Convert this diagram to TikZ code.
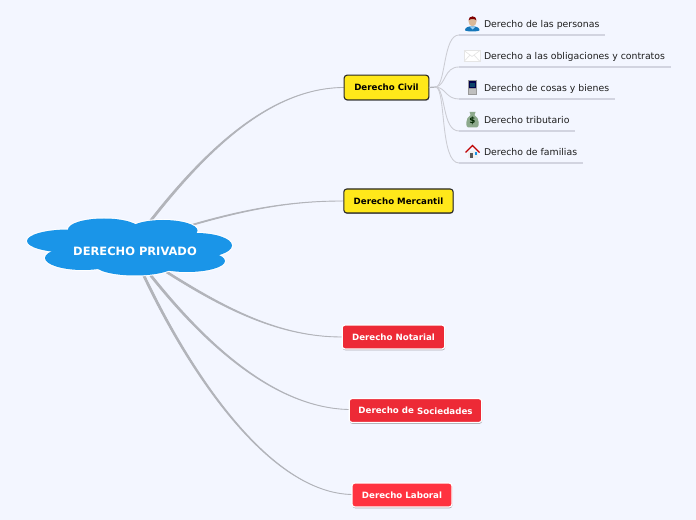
\documentclass[tikz,border=0pt]{standalone}
\usepackage{fontspec}
\setmainfont{DejaVu Sans}
\usetikzlibrary{shadows}
\definecolor{bgc}{RGB}{243,246,255}
\definecolor{cloudc}{RGB}{26,149,232}
\definecolor{yel}{RGB}{255,232,26}
\definecolor{redA}{RGB}{237,42,54}
\definecolor{redB}{RGB}{255,51,64}
\definecolor{mainl}{RGB}{178,180,186}
\definecolor{subl}{RGB}{204,205,212}
\definecolor{ulin}{RGB}{210,212,224}
\definecolor{txt}{RGB}{30,30,30}
\tikzset{
  x=0.75pt,y=-0.75pt,
  every node/.style={inner sep=0pt,outer sep=0pt},
  mainconn/.style={draw=mainl,fill=mainl,line width=0.65pt,line join=round},
  subconn/.style={draw=subl,line width=0.65pt},
  underl/.style={draw=ulin,line width=0.85pt},
  lobe/.style={fill=cloudc},
  lobeout/.style={draw=white,line width=1.5pt,fill=white},
  topic/.style={rounded corners=2.2pt,font=\bfseries\fontsize{6.5}{8}\selectfont,anchor=center},
  toplabel/.style={font=\bfseries\fontsize{6.5}{8}\selectfont,text height=5pt,text depth=0pt,anchor=center},
  yellowbox/.style={topic,fill=yel,draw=black!85,line width=0.8pt,drop shadow={shadow xshift=0.3pt,shadow yshift=-0.7pt,fill=black,opacity=0.3}},
  redbox/.style={topic,fill=redA,draw=white,line width=0.9pt,drop shadow={shadow xshift=0.3pt,shadow yshift=-1pt,fill=black,opacity=0.3}},
  leaf/.style={anchor=base west,text=txt,font=\fontsize{7}{8}\selectfont},
}
\begin{document}
\begin{tikzpicture}
\useasboundingbox (0,0) rectangle (696,520);
\fill[bgc] (0,0) rectangle (696,520);

% nodes
\node[font=\bfseries\fontsize{8.6}{10}\selectfont,anchor=center] (root) at (135,251) {\phantom{DERECHO PRIVADO}};
\coordinate (r1) at (150,220);
\coordinate (r1b) at (151.6,221);
\coordinate (r2) at (190,226);
\coordinate (r2b) at (190,225);
\coordinate (r3) at (165,272);
\coordinate (r3b) at (166.6,271);
\coordinate (r4) at (150,276);
\coordinate (r4b) at (151.6,275);
\coordinate (r5) at (143,276);
\coordinate (r5b) at (144.6,275);

\coordinate (c1) at (343.5,87.5);
\coordinate (c2) at (342.5,201);
\coordinate (c3) at (342,337);
\coordinate (c4) at (349,409.5);
\coordinate (c5) at (352,494.5);

% main connectors: tapered, wider at the root
\path[mainconn] (r1) .. controls (205,150) and (270,88) .. (c1) .. controls (270,88) and (206.6,151) .. (r1b) -- cycle;
\path[mainconn] (r2) .. controls (245,210) and (290,201) .. (c2) .. controls (290,201) and (245,209) .. (r2b) -- cycle;
\path[mainconn] (r3) .. controls (225,310) and (280,337) .. (c3) .. controls (280,337) and (226.6,309) .. (r3b) -- cycle;
\path[mainconn] (r4) .. controls (205,345) and (275,408) .. (c4) .. controls (275,408) and (206.6,344) .. (r4b) -- cycle;
\path[mainconn] (r5) .. controls (190,375) and (270,493) .. (c5) .. controls (270,493) and (191.6,374) .. (r5b) -- cycle;

% boxes
\node[yellowbox,minimum width=63.5pt,minimum height=18.5pt] (civil) at (386.5,87.5) {};
\node[yellowbox,minimum width=82pt,minimum height=18pt] (merc) at (398.5,201) {};
\node[redbox,minimum width=77pt,minimum height=18pt] (nota) at (393.5,337) {};
\node[redbox,minimum width=99.5pt,minimum height=18pt] (soci) at (415.5,410.5) {};
\node[redbox,fill=redB,minimum width=75pt,minimum height=18pt] (labo) at (402,495) {};

% cloud
\foreach \cx/\cy/\rx/\ry in {68.5/241/41.5/11.5,104/229.5/36/11,163/230.5/34.5/10.5,196/245.5/36/12.5,187/261/38/11,135/265/40/10.5,83/258/38/12}{
  \path[lobeout] (\cx,\cy) ellipse [x radius=\rx*0.75pt,y radius=\ry*0.75pt];
}
\foreach \cx/\cy/\rx/\ry in {68.5/241/41.5/11.5,104/229.5/36/11,163/230.5/34.5/10.5,196/245.5/36/12.5,187/261/38/11,135/265/40/10.5,83/258/38/12}{
  \path[lobe] (\cx,\cy) ellipse [x radius=\rx*0.75pt,y radius=\ry*0.75pt];
}
\fill[cloudc] (70,235) rectangle (205,262);
\node[font=\bfseries\fontsize{8.6}{10}\selectfont,text=white,anchor=center] at (root) {DERECHO PRIVADO};

% box labels
\node[toplabel,text=black] (tcivil) at (civil) {Derecho Civil};
\node[toplabel,text=black] (tmerc) at (merc) {Derecho Merca\raisebox{-0.5pt}{ntil}};
\node[toplabel,text=white] (tnota) at (nota) {Derecho Notarial};
\node[toplabel,text=white] (tsoci) at (soci) {Derecho de \raisebox{-0.5pt}{Sociedades}};
\node[toplabel,text=white] (tlabo) at (labo) {Derecho Laboral};

% leaves
\node[leaf] (l1) at (484,27.8) {Derecho de las personas};
\node[leaf] (l2) at (484,59.8) {Derecho a las obligaciones y contratos};
\node[leaf] (l3) at (484,91.8) {Derecho de cosas y bienes};
\node[leaf] (l4) at (484,123.8) {Derecho tributario};
\node[leaf] (l5) at (484,155.8) {Derecho de familias};

\coordinate (hub) at (436,87);
\coordinate (s1) at (459,35);   \coordinate (e1) at (605,35);
\coordinate (s2) at (459,67);   \coordinate (e2) at (671,67);
\coordinate (s3) at (459,99);   \coordinate (e3) at (615,99);
\coordinate (s4) at (459,131);  \coordinate (e4) at (575,131);
\coordinate (s5) at (459,163);  \coordinate (e5) at (583,163);
\draw[mainl,line width=0.9pt] (civil.east) -- (hub);
\draw[subconn] (hub) .. controls (446,84) and (443,35) .. (s1);
\draw[subconn] (hub) .. controls (446,85) and (444,67) .. (s2);
\draw[subconn] (hub) .. controls (446,88) and (446,99) .. (s3);
\draw[subconn] (hub) .. controls (446,90) and (442,131) .. (s4);
\draw[subconn] (hub) .. controls (446,90) and (440,163) .. (s5);
\draw[underl] (s1) -- (e1);
\draw[underl] (s2) -- (e2);
\draw[underl] (s3) -- (e3);
\draw[underl] (s4) -- (e4);
\draw[underl] (s5) -- (e5);

% icons
% person
\fill[cloudc!80!black] (465,30) .. controls (465,25) and (479.5,25) .. (479.5,30) .. controls (479.5,32) and (465,32) .. (465,30) -- cycle;
\fill[cloudc!45!white] (469.5,26.5) -- (475.5,26.5) -- (472.5,29.5) -- cycle;
\fill[orange!30!white!85!black] (472.5,21.5) ellipse [x radius=3pt,y radius=3.6pt];
\fill[red!50!black] (468.5,20.5) .. controls (468.3,15) and (476.8,15) .. (476.5,20.5) .. controls (475,18.5) and (470,18.5) .. (468.5,20.5) -- cycle;
% envelope
\fill[white] (464,50.5) rectangle (480,61.5);
\draw[black!10,line width=0.5pt] (464,50.5) rectangle (480,61.5);
\draw[black!10,line width=0.5pt] (464,50.5) -- (472,56.5) -- (480,50.5) (464,61.5) -- (470,55) (480,61.5) -- (474,55);
% phone
\fill[black!40] (467.5,80.5) rectangle (477,95);
\fill[black!70!blue] (468.8,81.5) rectangle (475.8,88.5);
\fill[cloudc!45!black] (470,83) rectangle (474.6,87);
\fill[black!25] (468.8,89.5) rectangle (475.8,94);
% money bag
\fill[green!25!black!45!white] (469.5,112) -- (475.5,112) -- (474.5,115) .. controls (480,118) and (479.5,127.5) .. (477,127.5) -- (468,127.5) .. controls (465.5,127.5) and (465,118) .. (470.5,115) -- cycle;
\node[font=\bfseries\fontsize{6.5}{7}\selectfont,text=black!85!green] (dollar) at (472.5,121) {\$};
% house
\fill[black!6] (467.5,151) rectangle (478,158);
\fill[black!65] (470,153) rectangle (473,158);
\fill[cloudc] (474.5,152.5) rectangle (477,155);
\draw[red!75!black,line width=0.9pt] (465.5,152.5) -- (472.5,145.5) -- (479.5,152.5);
\end{tikzpicture}
\end{document}
